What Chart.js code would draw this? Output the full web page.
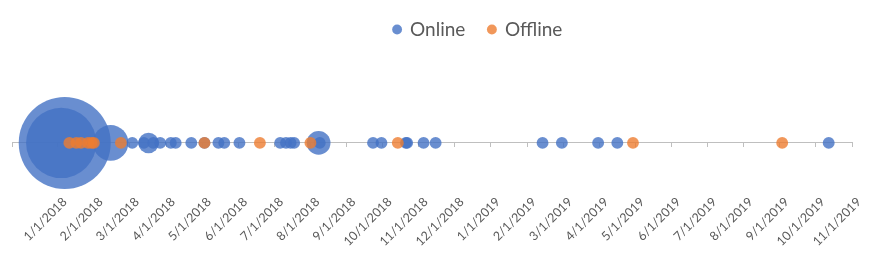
<!DOCTYPE html>
<html>
<head>
<meta charset="utf-8">
<script src="https://cdn.jsdelivr.net/npm/chart.js@4.4.1/dist/chart.umd.min.js"></script>
<style>
  html, body { margin: 0; padding: 0; background: #ffffff; }
  #wrap { width: 884px; height: 273px; position: relative; }
</style>
</head>
<body>
<div id="wrap"><canvas id="BubbleChart"></canvas></div>
<script>
// tick labels shown under the axis
var tickLabels = ['1/1/2018', '2/1/2018', '3/1/2018', '4/1/2018', '5/1/2018', '6/1/2018',
    '7/1/2018', '8/1/2018', '9/1/2018', '10/1/2018', '11/1/2018', '12/1/2018',
    '1/1/2019', '2/1/2019', '3/1/2019', '4/1/2019', '5/1/2019', '6/1/2019',
    '7/1/2019', '8/1/2019', '9/1/2019', '10/1/2019', '11/1/2019'];
var axisStart = '11/23/2017';
var axisEnd = '11/1/2019';

// Online series
var onlineDates = ['1/7/2018', '1/4/2018', '2/14/2018', '3/3/2018', '3/13/2018', '3/17/2018',
    '3/21/2018', '3/27/2018', '4/5/2018', '4/9/2018', '4/22/2018', '5/3/2018', '5/15/2018',
    '5/20/2018', '6/2/2018', '7/6/2018', '7/11/2018', '7/15/2018', '7/18/2018', '8/8/2018',
    '8/9/2018', '9/23/2018', '9/30/2018', '10/21/2018', '10/22/2018', '11/5/2018',
    '11/15/2018', '2/13/2019', '2/28/2019', '3/31/2019', '4/16/2019', '10/12/2019'];
var onlineSizes = [60, 35, 9, 1, 1, 3, 1, 1, 1, 1, 1, 1, 1, 1, 1, 1, 1, 1, 1, 4,
    1, 1, 1, 1, 1, 1, 1, 1, 1, 1, 1, 1];

// Offline series
var offlineDates = ['1/11/2018', '1/17/2018', '1/21/2018', '1/27/2018', '1/30/2018', '2/1/2018',
    '2/22/2018', '5/3/2018', '6/19/2018', '8/1/2018', '10/14/2018', '4/29/2019', '9/3/2019'];
var offlineSizes = [1, 1, 1, 1, 1, 1, 1, 1, 1, 1, 1, 1, 1];

var MAX_RADIUS = 46;

// m/d/yyyy -> months since 1/1/2018 (each month same width)
function toMonthIndex(s) {
    var p = s.split('/');
    var m = +p[0], d = +p[1], y = +p[2];
    var days = new Date(y, m, 0).getDate();
    return (y - 2018) * 12 + (m - 1) + (d - 1) / days;
}

var maxSize = Math.max.apply(null, onlineSizes.concat(offlineSizes));
function toPoints(dates, sizes) {
    return dates.map(function (d, i) {
        return { x: toMonthIndex(d), y: 0, r: MAX_RADIUS * Math.sqrt(sizes[i] / maxSize) };
    });
}

var xMin = toMonthIndex(axisStart);
var xMax = toMonthIndex(axisEnd);

// legend in the source sits a bit right of centre
var legendShift = {
    id: 'legendShift',
    afterLayout: function (chart) {
        chart.legend.left += 46;
        chart.legend.right += 46;
        chart.legend.top -= 3;
        chart.legend.bottom -= 3;
    }
};

new Chart(document.getElementById('BubbleChart'), {
    type: 'bubble',
    data: {
        datasets: [
            {
                label: 'Online',
                data: toPoints(onlineDates, onlineSizes),
                backgroundColor: 'rgba(68, 114, 196, 0.8)',
                borderWidth: 0,
                clip: false,
                order: 1
            },
            {
                label: 'Offline',
                data: toPoints(offlineDates, offlineSizes),
                backgroundColor: 'rgba(237, 125, 49, 0.8)',
                borderWidth: 0,
                clip: false,
                order: 0
            }
        ]
    },
    options: {
        responsive: true,
        maintainAspectRatio: false,
        animation: false,
        events: [],
        layout: {
            autoPadding: false,
            padding: { left: 12, right: 32, top: 0, bottom: 20 }
        },
        plugins: {
            legend: {
                display: true,
                position: 'top',
                labels: {
                    usePointStyle: true,
                    pointStyle: 'circle',
                    boxWidth: 7,
                    boxHeight: 7,
                    padding: 23,
                    color: '#595959',
                    font: { family: 'Lato', size: 19 },
                    sort: function (a, b) { return a.datasetIndex - b.datasetIndex; }
                }
            },
            tooltip: { enabled: false }
        },
        scales: {
            x: {
                type: 'linear',
                position: 'bottom',
                min: xMin,
                max: xMax,
                afterBuildTicks: function (scale) {
                    scale.ticks = tickLabels.map(function (t, i) { return { value: i }; });
                },
                ticks: {
                    autoSkip: false,
                    minRotation: 45,
                    maxRotation: 45,
                    padding: 4,
                    labelOffset: 7,
                    color: '#595959',
                    font: { family: 'Lato', size: 12.5 },
                    callback: function (value) { return tickLabels[value]; }
                },
                grid: { display: false, drawTicks: false },
                border: { display: false }
            },
            x2: {
                type: 'linear',
                axis: 'x',
                position: { y: 0 },
                min: xMin,
                max: xMax,
                afterBuildTicks: function (scale) {
                    var t = [{ value: xMin }];
                    tickLabels.forEach(function (l, i) { t.push({ value: i }); });
                    scale.ticks = t;
                },
                ticks: { display: false },
                grid: { drawOnChartArea: false, drawTicks: true, tickLength: 4, color: '#bfbfbf' },
                border: { display: true, color: '#bfbfbf', width: 1 }
            },
            y: {
                display: false,
                min: -1,
                max: 1.91
            }
        }
    },
    plugins: [legendShift]
});
</script>
</body>
</html>
